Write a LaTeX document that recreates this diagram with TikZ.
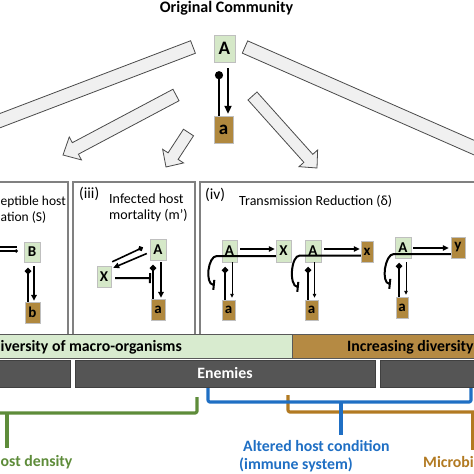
\documentclass[tikz,border=0pt]{standalone}
\usepackage{fontspec}
\setmainfont{Carlito}
\usetikzlibrary{arrows.meta,calc}
\definecolor{boxgreen}{HTML}{D5E8C8}
\definecolor{boxbrown}{HTML}{B0883E}
\definecolor{bandgreen}{HTML}{D8EBCF}
\definecolor{bandbrown}{HTML}{B58A43}
\definecolor{enemygray}{HTML}{555555}
\definecolor{arrowfill}{HTML}{F0F0F0}
\definecolor{arrowline}{HTML}{4A4A4A}
\definecolor{panelline}{HTML}{808080}
\definecolor{brgreen}{HTML}{5E8C3A}
\definecolor{brblue}{HTML}{1F6FC4}
\definecolor{brbrown}{HTML}{B27A22}
\tikzset{
  bigarr/.style={draw=arrowline, fill=arrowfill, line width=0.8pt, line join=miter},
  panel/.style={draw=panelline, line width=1.3pt},
  gbox/.style={draw=gray!50, fill=boxgreen, inner sep=0pt, font=\fontsize{15}{15}\selectfont\bfseries},
  bbox/.style={draw=gray!50, fill=boxbrown, inner sep=0pt, font=\fontsize{15}{15}\selectfont\bfseries},
  ballln/.style={line width=2.2pt, {Circle[length=6pt]}-},
  actarr/.style={line width=1.6pt, -{Triangle[length=6pt,width=5.5pt]}},
  thinarr/.style={line width=0.9pt, -{Triangle[length=4pt,width=3.5pt]}},
  inhib/.style={line width=2pt, -{Bar[width=10pt]}},
  ptext/.style={font=\fontsize{14}{16}\selectfont, inner sep=0pt, anchor=base west},
  btext/.style={font=\fontsize{15.8}{18}\selectfont\bfseries, inner sep=0pt, anchor=base west},
  bracket/.style={line width=3.2pt, line join=round, rounded corners=2pt},
  band/.style={draw=gray!70!black, line width=0.8pt},
}
\newcommand\bigarrow[5]{%
  \coordinate (bn) at ($(#2)!#5!(#1)$);
  \draw[bigarr] ($(#1)!#3!90:(#2)$) -- ($(bn)!#3!-90:(#1)$) -- ($(bn)!#4!-90:(#1)$) -- (#2)
    -- ($(bn)!#4!90:(#1)$) -- ($(bn)!#3!90:(#1)$) -- ($(#1)!#3!-90:(#2)$) -- cycle;
}
\begin{document}
\begin{tikzpicture}[x=1pt,y=-1pt]
\useasboundingbox (0,0) rectangle (474,474);
\clip (0,0) rectangle (474,474);
\fill[white] (0,0) rectangle (474,474);

% title and original community
\node[btext, font=\fontsize{16}{18}\selectfont\bfseries, anchor=base] (title) at (226.5,12.5) {Original Community};
\node[gbox, minimum width=21, minimum height=27, font=\fontsize{19}{19}\selectfont\bfseries] (A0) at (224.5,48.5) {A};
\node[bbox, minimum width=19, minimum height=27, font=\fontsize{19}{19}\selectfont\bfseries] (a0) at (223.5,129.5) {a};
\draw[line width=2.8pt, {Circle[length=8pt]}-] ($(A0.south)+(-5.5,9)$) -- ($(a0.north)+(-4.5,0)$);
\draw[line width=2.2pt, -{Triangle[length=8pt,width=7pt]}] ($(A0.south)+(3.5,6)$) -- ($(a0.north)+(4.5,-2)$);

% big arrows
\coordinate (t1) at (193,47);   \coordinate (h1) at (-77,150);
\coordinate (t2) at (176,95);   \coordinate (h2) at (63,155);
\coordinate (t3) at (188.5,132.5); \coordinate (h3) at (166,167);
\coordinate (t4) at (252.5,96); \coordinate (h4) at (317,168);
\coordinate (t5) at (245,47);   \coordinate (h5) at (566,188);
\bigarrow{t1}{h1}{6.7pt}{14pt}{18pt}
\bigarrow{t2}{h2}{6.5pt}{13pt}{14pt}
\bigarrow{t3}{h3}{6pt}{12.5pt}{13pt}
\bigarrow{t4}{h4}{6pt}{12.5pt}{13pt}
\bigarrow{t5}{h5}{6.7pt}{14pt}{18pt}

% panels
\draw[panel] (-5,182) rectangle (68,340);
\draw[panel] (73,182) rectangle (195,340);
\draw[panel] (200,182) rectangle (480,340);

% panel (ii)
\node[ptext, font=\fontsize{13.5}{16}\selectfont] (t2a) at (0.5,205) {eptible host};
\node[ptext, font=\fontsize{13.5}{16}\selectfont] (t2b) at (0.5,221) {ation (S)};
\node[gbox, minimum width=16, minimum height=20] (B2) at (32,252) {B};
\node[bbox, minimum width=15, minimum height=21] (b2) at (32.5,312.5) {b};
\coordinate (L2a) at (-2,247);
\coordinate (L2b) at (-2,251);
\draw[line width=1.6pt] (L2a) -- ($(B2.west)+(-7,-5)$);
\draw[line width=1.6pt, -{Circle[length=3pt]}] (L2b) -- ($(B2.west)+(-6,-1)$);
\draw[ballln] ($(B2.south)+(-4,6)$) -- ($(b2.north)+(-4.5,0)$);
\draw[actarr] ($(B2.south)+(2,4)$) -- ($(b2.north)+(1.5,-1)$);

% panel (iii)
\node[ptext, font=\fontsize{15.5}{16}\selectfont] (t3n) at (79,198) {(iii)};
\node[ptext] (t3a) at (109,203) {Infected host};
\node[ptext] (t3b) at (109,219) {mortality (m’)};
\node[gbox, minimum width=16, minimum height=21] (A3) at (158,249.5) {A};
\node[gbox, minimum width=14, minimum height=21] (X3) at (104,276.5) {X};
\node[bbox, minimum width=14, minimum height=21] (a3) at (158,309.5) {a};
\draw[line width=1.6pt, {Circle[length=5pt]}-] ($(A3.west)+(-7,-2)$) -- ($(X3.north east)+(1,-4)$);
\draw[actarr] ($(A3.west)+(-3,4)$) -- ($(X3.north east)+(2,2)$);
\draw[inhib] ($(X3.east)+(4,1.5)$) -- ($(A3.south)+(-7,18)$);
\draw[ballln] ($(A3.south)+(-5,5)$) -- ($(a3.north)+(-5,0)$);
\draw[actarr] ($(A3.south)+(3,2)$) -- ($(a3.north)+(3,-1)$);

% panel (iv)
\node[ptext, font=\fontsize{15.5}{16}\selectfont] (t4n) at (205,199) {(iv)};
\node[ptext] (t4a) at (239,205) {Transmission Reduction (δ)};
% sub 1
\node[gbox, minimum width=15, minimum height=22] (A41) at (229.5,251) {A};
\node[gbox, minimum width=15, minimum height=22] (X41) at (283.5,251) {X};
\node[bbox, minimum width=13, minimum height=20] (a41) at (228.5,310) {a};
\draw[actarr, line width=1.4pt] ($(A41.east)+(3,-2)$) -- ($(X41.west)+(-1,-2)$);
\coordinate (c41s) at ($(X41.west)+(0,5)$);
\coordinate (c41m) at ($(A41.west)+(-5,5)$);
\coordinate (c41e) at ($(A41.west)+(-7,34)$);
\draw[inhib] (c41s) -- (c41m) .. controls ($(c41m)+(-9,0)$) and ($(c41e)+(-10,-1)$) .. (c41e);
\draw[ballln] ($(A41.south)+(-4.5,5)$) -- ($(a41.north)+(-3.5,0)$);
\draw[thinarr] ($(A41.south)+(2.5,0)$) -- ($(a41.north)+(3.5,-2)$);
% sub 2
\node[gbox, minimum width=16, minimum height=22] (A42) at (313,251) {A};
\node[bbox, minimum width=12, minimum height=21] (x42) at (367,251.5) {x};
\node[bbox, minimum width=13, minimum height=20] (a42) at (311.5,310) {a};
\draw[actarr, line width=1.4pt] ($(A42.east)+(3,-2)$) -- ($(x42.west)+(-1,-2.5)$);
\coordinate (c42s) at ($(x42.west)+(0,4)$);
\coordinate (c42m) at ($(A42.west)+(-5,4.5)$);
\coordinate (c42e) at ($(A42.west)+(-6,36)$);
\draw[inhib] (c42s) -- (c42m) .. controls ($(c42m)+(-9,0)$) and ($(c42e)+(-10,-1)$) .. (c42e);
\draw[ballln] ($(A42.south)+(-5,5)$) -- ($(a42.north)+(-3.5,0)$);
\draw[thinarr] ($(A42.south)+(1.5,0)$) -- ($(a42.north)+(3,-2)$);
% sub 3
\node[gbox, minimum width=16, minimum height=21] (A43) at (403,247.5) {A};
\node[bbox, minimum width=14, minimum height=21] (y43) at (458,247.5) {y};
\node[bbox, minimum width=12, minimum height=21] (a43) at (402,307.5) {a};
\draw[actarr, line width=1.4pt] ($(A43.east)+(2,0.5)$) -- ($(y43.west)+(-2,0.5)$);
\coordinate (c43s) at ($(y43.west)+(0,6.5)$);
\coordinate (c43m) at ($(A43.west)+(-1,6.5)$);
\coordinate (c43e) at ($(A43.west)+(-4,36.5)$);
\draw[inhib] (c43s) -- (c43m) .. controls ($(c43m)+(-9,0)$) and ($(c43e)+(-10,-1)$) .. (c43e);
\draw[ballln] ($(A43.south)+(-4,5)$) -- ($(a43.north)+(-3,0)$);
\draw[thinarr] ($(A43.south)+(3,4)$) -- ($(a43.north)+(4,-2)$);

% bands
\draw[band, fill=bandgreen] (-3,334) rectangle (292,358);
\draw[band, fill=bandbrown] (292,334) rectangle (480,358);
\node[btext] (bandG) at (0.5,351) {iversity of macro-organisms};
\node[btext] (bandB) at (347,351) {Increasing diversity};
\draw[draw=black!75, fill=enemygray] (-3,360) rectangle (70,387);
\draw[draw=black!75, fill=enemygray] (75,360) rectangle (375,387);
\draw[draw=black!75, fill=enemygray] (380,360) rectangle (480,387);
\node[btext, text=white, anchor=base] (enem) at (225,378) {Enemies};

% brackets
\draw[bracket, brgreen] (197,397) -- (197,413) -- (-5,413);
\draw[bracket, brgreen] (7,413) -- (7,448);
\node[btext, text=brgreen] (lgreen) at (0.5,466) {ost density};
\draw[bracket, brbrown] (288,395) -- (288,412) -- (490,412);
\draw[bracket, brbrown] (473,412) -- (473,450);
\draw[bracket, brblue] (208,388) -- (208,402) -- (471,402) -- (471,388);
\draw[bracket, brblue] (341,402) -- (341,435);
\node[btext, text=brblue] (lblue1) at (243,451) {Altered host condition};
\node[btext, text=brblue] (lblue2) at (239,469) {(immune system)};
\node[btext, text=brbrown] (lbrown) at (423,467.5) {Microbi};
\end{tikzpicture}
\end{document}
